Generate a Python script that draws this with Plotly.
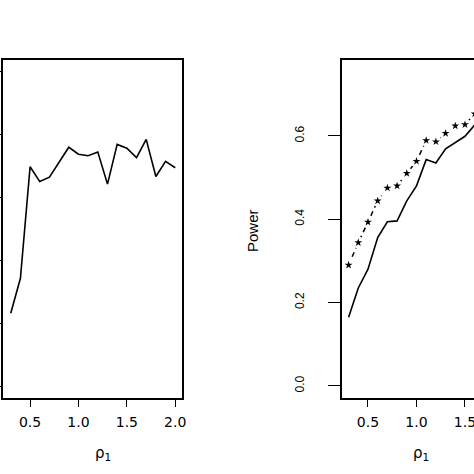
import plotly.graph_objects as go

# valeurs
rho = [0.3, 0.4, 0.5, 0.6, 0.7, 0.8, 0.9, 1.0, 1.1, 1.2, 1.3, 1.4, 1.5, 1.6, 1.7, 1.8, 1.9, 2.0]
power_gauche = [0.234, 0.345, 0.699, 0.652, 0.666, 0.715, 0.761, 0.739, 0.734, 0.746,
                0.644, 0.770, 0.758, 0.728, 0.786, 0.668, 0.716, 0.696]

rho_droite = [0.3, 0.4, 0.5, 0.6, 0.7, 0.8, 0.9, 1.0, 1.1, 1.2, 1.3, 1.4, 1.5, 1.6]
power_trait = [0.165, 0.235, 0.280, 0.356, 0.394, 0.396, 0.444, 0.480, 0.543, 0.535,
               0.569, 0.585, 0.599, 0.626]
power_etoile = [0.290, 0.344, 0.393, 0.444, 0.475, 0.480, 0.510, 0.539, 0.589, 0.586,
                0.606, 0.624, 0.627, 0.653]

x_ticks = [0.5, 1.0, 1.5, 2.0]
x_ticktext = ["0.5", "1.0", "1.5", "2.0"]
y_ticks = [0.0, 0.2, 0.4, 0.6, 0.8, 1.0]
y_ticktext = ["0.0", "0.2", "0.4", "0.6", "0.8", "1.0"]

noir = "black"
police_x = dict(family="DejaVu Sans", size=14, color=noir)
police_y = dict(family="Liberation Sans", size=12, color=noir)

fig = go.Figure()

# panneau de gauche
fig.add_trace(go.Scatter(x=rho, y=power_gauche, mode="lines",
                         line=dict(color=noir, width=1.6), xaxis="x", yaxis="y"))

# panneau de droite : ligne pointillée type "b" (masquée autour des points)
fig.add_trace(go.Scatter(x=rho_droite, y=power_etoile, mode="lines",
                         line=dict(color=noir, width=1.5, dash="5px,4px"), xaxis="x2", yaxis="y2"))
fig.add_trace(go.Scatter(x=rho_droite, y=power_etoile, mode="markers",
                         marker=dict(symbol="circle", size=12, color="white"),
                         xaxis="x2", yaxis="y2"))
fig.add_trace(go.Scatter(x=rho_droite, y=power_etoile, mode="markers",
                         marker=dict(symbol="star", size=6, color=noir, line=dict(width=0)),
                         xaxis="x2", yaxis="y2"))
fig.add_trace(go.Scatter(x=rho_droite, y=power_trait, mode="lines",
                         line=dict(color=noir, width=1.6), xaxis="x2", yaxis="y2"))

axe_commun = dict(showline=True, linecolor=noir, linewidth=1.5, showgrid=False,
                  zeroline=False, ticks="outside", tickcolor=noir, tickwidth=1.2,
                  automargin=False)

fig.update_layout(
    template="none",
    width=474, height=474,
    margin=dict(l=0, r=0, t=0, b=0, pad=0, autoexpand=False),
    paper_bgcolor="white", plot_bgcolor="white",
    showlegend=False,
    xaxis=dict(axe_commun, domain=[3 / 474, 182 / 474], range=[0.22, 2.07],
               tickvals=x_ticks, ticktext=x_ticktext, ticklen=7, mirror=True,
               tickfont=police_x, ticklabelstandoff=3, anchor="y"),
    yaxis=dict(axe_commun, domain=[1 - 398 / 474, 1 - 60 / 474], range=[-0.035, 1.038],
               tickvals=y_ticks, ticktext=y_ticktext, ticklen=12, mirror=True,
               showticklabels=False, anchor="x"),
    xaxis2=dict(axe_commun, domain=[342 / 474, 1], range=[0.232, 1.593],
                tickvals=x_ticks, ticktext=x_ticktext, ticklen=7, mirror=True,
                tickfont=police_x, ticklabelstandoff=3, ticklabeloverflow="allow",
                anchor="y2"),
    yaxis2=dict(axe_commun, domain=[1 - 398 / 474, 1 - 60 / 474], range=[-0.029, 0.782],
                tickvals=[0.0, 0.2, 0.4, 0.6], ticktext=["0.0", "0.2", "0.4", "0.6"],
                ticklen=12, mirror=False, tickangle=-90, tickfont=police_y,
                ticklabelstandoff=19, anchor="x2"),
)

# titres des axes
fig.add_annotation(text="ρ<sub>1</sub>", x=92.5 / 474, y=1 - 465 / 474, xref="paper", yref="paper",
                   showarrow=False, font=dict(family="DejaVu Sans", size=15, color=noir))
fig.add_annotation(text="ρ<sub>1</sub>", x=431 / 474, y=1 - 465 / 474, xref="paper", yref="paper",
                   showarrow=False, font=dict(family="DejaVu Sans", size=15, color=noir))
fig.add_annotation(text="Power", x=252 / 474, y=1 - 230 / 474, xref="paper", yref="paper",
                   showarrow=False, textangle=-90, font=dict(family="Liberation Sans", size=15, color=noir))

# pas de marge autour de la page pour que la figure commence au coin
fig.write_html("out.html", config={"displayModeBar": False},
               post_script="document.body.style.margin = '0';")
